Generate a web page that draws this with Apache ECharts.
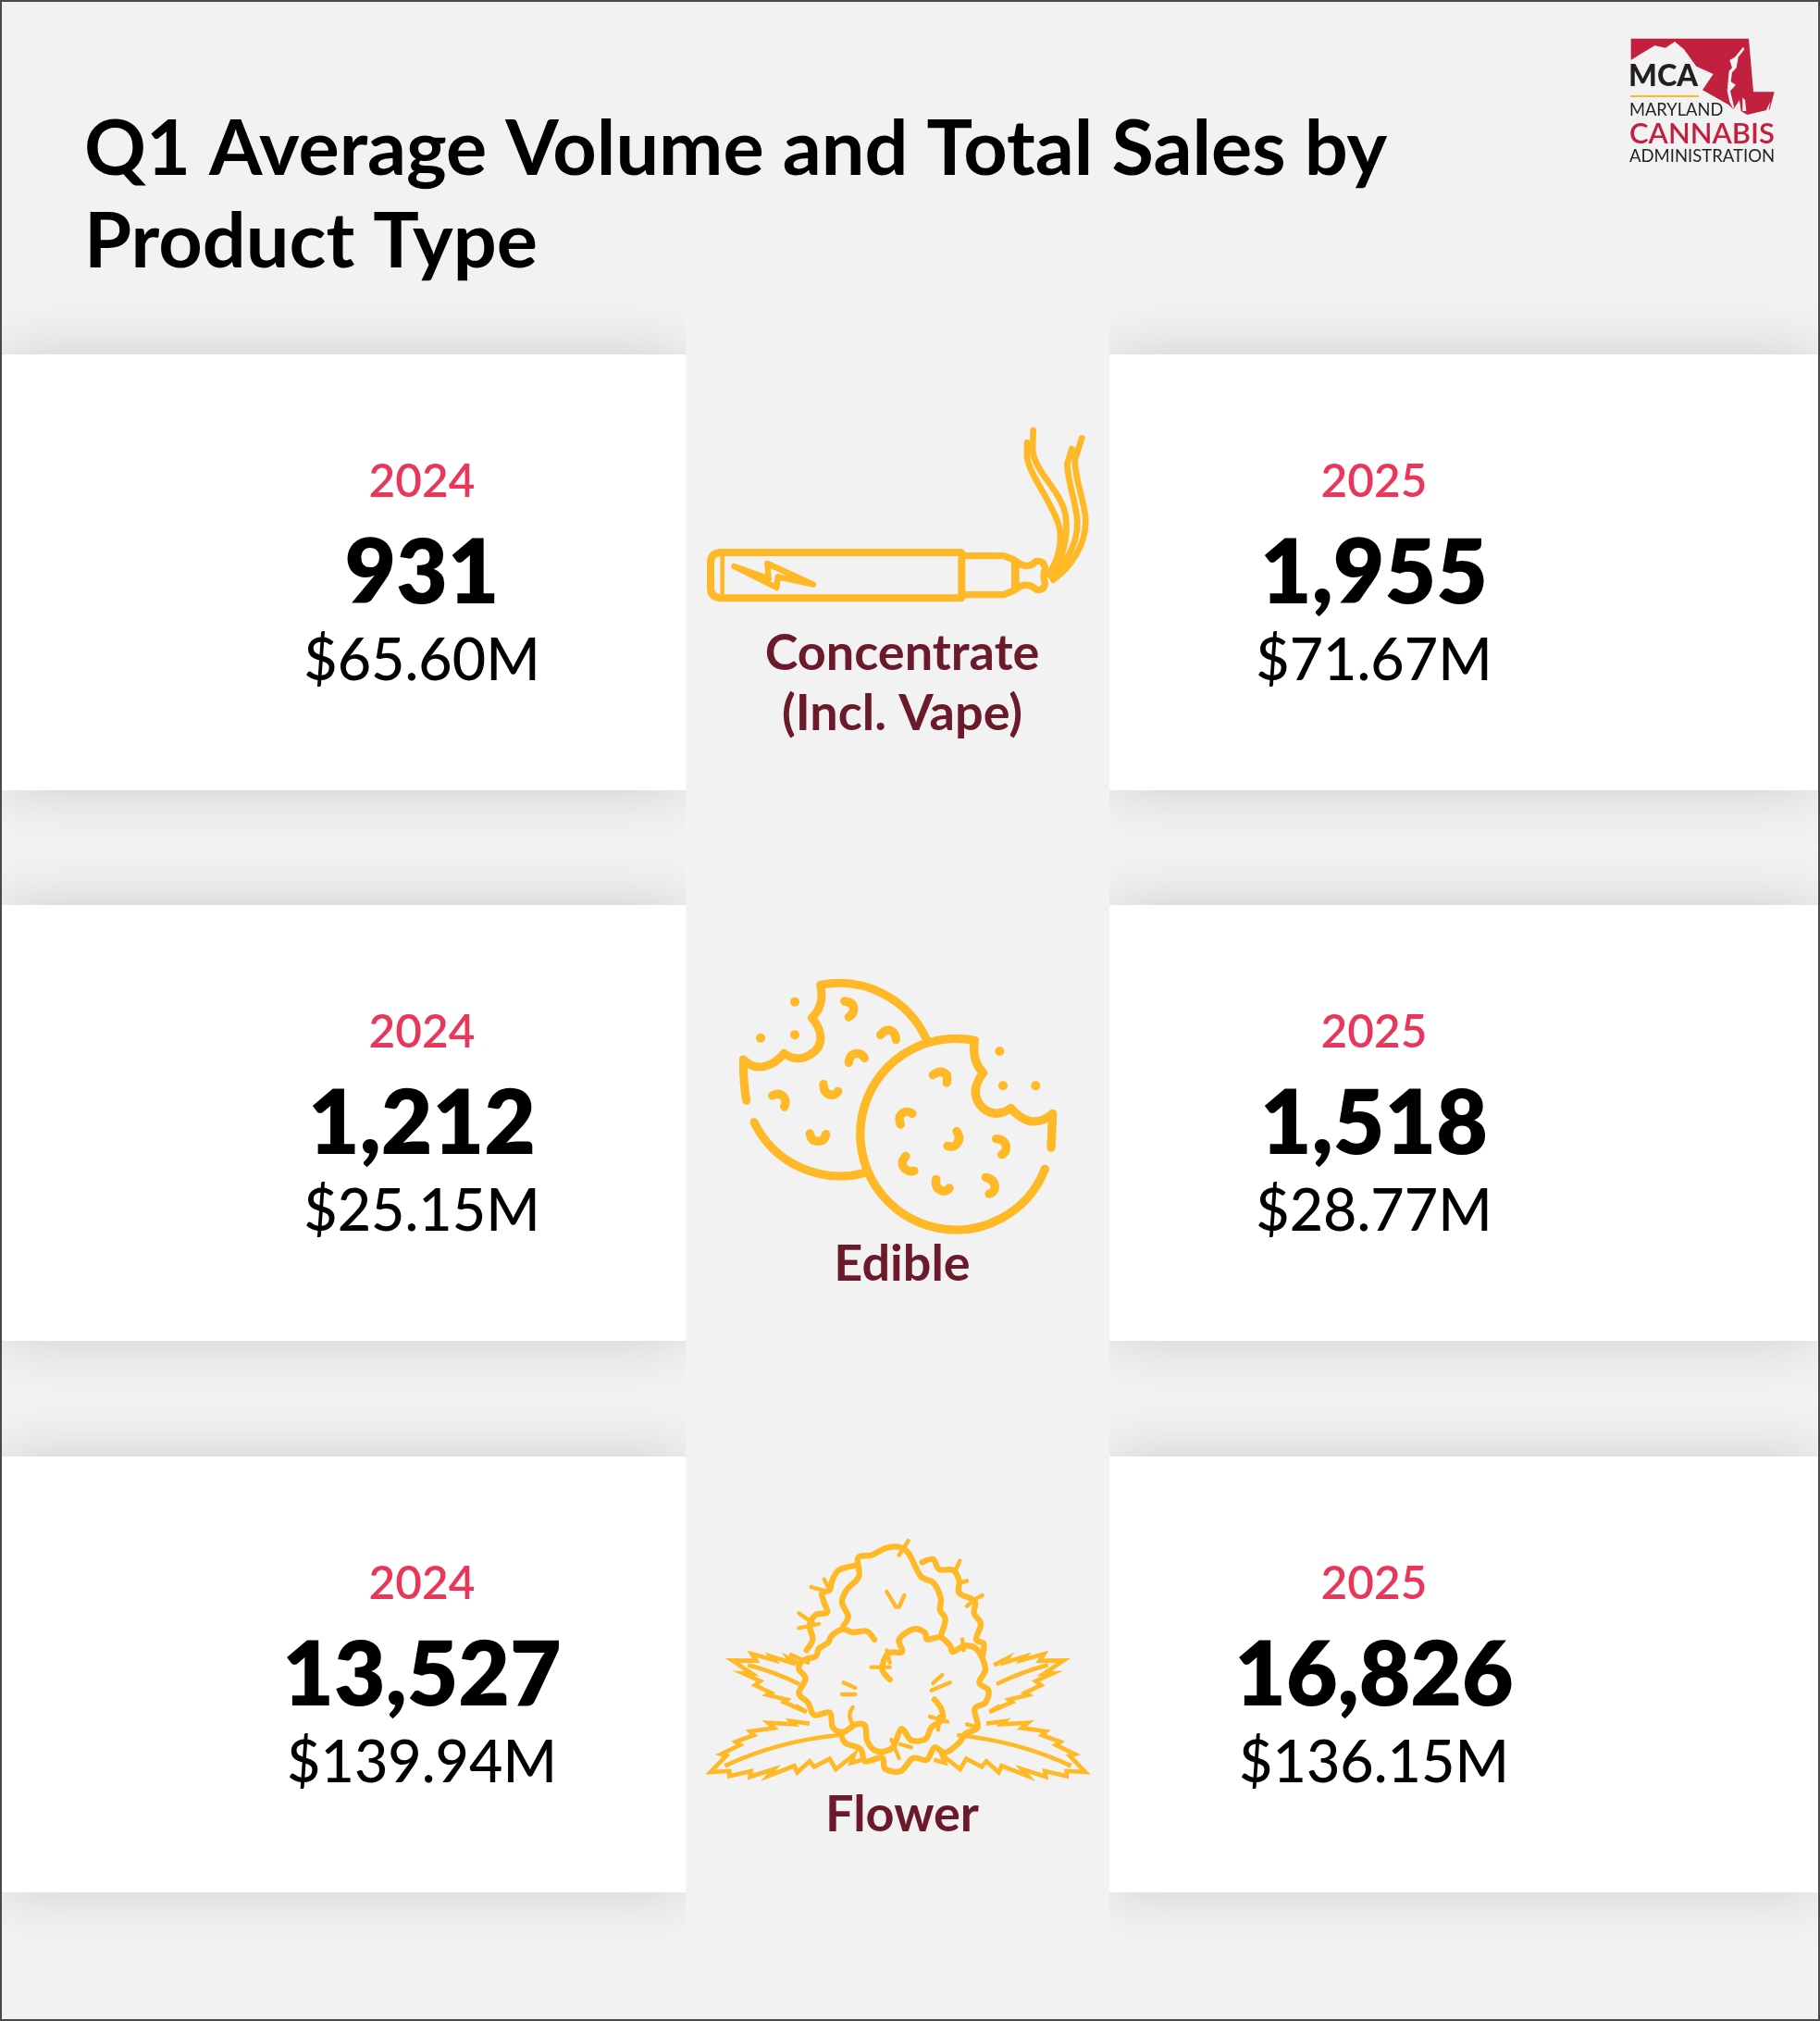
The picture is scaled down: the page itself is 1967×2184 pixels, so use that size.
<!DOCTYPE html>
<html>
<head>
<meta charset="utf-8">
<style>
  html, body { margin: 0; padding: 0; background: #f2f2f2; }
  #chart { width: 1967px; height: 2184px; }
</style>
<script src="https://cdn.jsdelivr.net/npm/echarts@6/dist/echarts.min.js"></script>
</head>
<body>
<div id="chart"></div>
<script>
var titleLines = ['Q1 Average Volume and Total Sales by', 'Product Type'];
var productTypes = [['Concentrate', '(Incl. Vape)'], ['Edible'], ['Flower']];
var years = ['2024', '2025'];
var volume2024 = [931, 1212, 13527];
var volume2025 = [1955, 1518, 16826];
var sales2024 = [65.60, 25.15, 139.94];
var sales2025 = [71.67, 28.77, 136.15];

var FONT = 'Lato';
var ROW_TOPS = [383, 978, 1574];
var ROW_H = 471;
var GOLD = '#ffb826';

var myChart = echarts.init(document.getElementById('chart'));

// catmull-rom through the points, used for the lumpy flower outlines
function smooth(pts) {
  var d = 'M' + pts[0][0] + ',' + pts[0][1];
  for (var i = 0; i < pts.length - 1; i++) {
    var p0 = pts[Math.max(i - 1, 0)], p1 = pts[i], p2 = pts[i + 1], p3 = pts[Math.min(i + 2, pts.length - 1)];
    d += 'C' + (p1[0] + (p2[0] - p0[0]) / 6) + ',' + (p1[1] + (p2[1] - p0[1]) / 6) + ' ' +
      (p2[0] - (p3[0] - p1[0]) / 6) + ',' + (p2[1] - (p3[1] - p1[1]) / 6) + ' ' + p2[0] + ',' + p2[1];
  }
  return d;
}

function text(str, x, y, size, weight, color, align) {
  return {
    type: 'text', x: x, y: y, z: 10,
    style: {
      text: str, fontFamily: FONT, fontSize: size, fontWeight: weight,
      fill: color, align: align || 'center', verticalAlign: 'middle'
    }
  };
}

// graphic has no plain path type, so each svg path gets registered as a shape
var shapeCount = 0;
function icon(d, ox, oy, lw, opts) {
  opts = opts || {};
  var name = 'iconPath' + (shapeCount++);
  echarts.graphic.registerShape(name, echarts.graphic.extendPath(d, {}));
  // icon paths are written in 3x crop units, so they get scale 1/3
  return {
    type: name, x: ox, y: oy, scaleX: opts.flip ? -1 / 3 : 1 / 3, scaleY: 1 / 3, z: 8,
    shape: {},
    style: {
      fill: opts.fill || 'none', stroke: opts.noStroke ? 'none' : (opts.stroke || GOLD), lineWidth: lw,
      lineCap: opts.cap || 'round', lineJoin: opts.join || 'round'
    }
  };
}

var els = [];

// page background and frame
els.push({ type: 'rect', z: 0, shape: { x: 0, y: 0, width: 1967, height: 2184 }, style: { fill: '#f2f2f2' } });

// white panels with their soft shadow
ROW_TOPS.forEach(function (top) {
  [[2, 739], [1199, 766]].forEach(function (p) {
    els.push({
      type: 'rect', z: 1, shape: { x: p[0], y: top, width: p[1], height: ROW_H },
      style: { fill: '#ffffff', shadowBlur: 60, shadowColor: 'rgba(0,0,0,0.15)' }
    });
  });
});
// center column sits over the shadows
els.push({ type: 'rect', z: 2, shape: { x: 741, y: 320, width: 458, height: 1800 }, style: { fill: '#f2f2f2' } });
els.push({
  type: 'rect', z: 3, shape: { x: 1, y: 1, width: 1965, height: 2182 },
  style: { fill: 'none', stroke: '#4a4a4a', lineWidth: 2 }
});

titleLines.forEach(function (t, i) {
  els.push(text(t, 91, 162 + i * 100, 82.8, 700, '#000000', 'left'));
});

// stat blocks
var cols = [[456, volume2024, sales2024, years[0]], [1485, volume2025, sales2025, years[1]]];
cols.forEach(function (c) {
  ROW_TOPS.forEach(function (top, r) {
    els.push(text(c[3], c[0], top + 138, 49.5, 600, '#e8375a'));
    els.push(text(c[1][r].toLocaleString('en-US'), c[0], top + 238, 96, 800, '#000000'));
    els.push(text('$' + c[2][r].toFixed(2) + 'M', c[0], top + 332, 62.8, 500, '#000000'));
  });
});

// product labels
var labelY = [[707, 772], [1367], [1962]];
productTypes.forEach(function (lines, r) {
  lines.forEach(function (l, i) {
    els.push(text(l, 975, labelY[r][i], 54, 700, '#6b1a2b'));
  });
});

// vape pen
var VX = 730, VY = 430;
els.push(icon('M150,501 H924 Q928,501 928,505 V645 Q928,649 924,649 H150 Q114,649 114,615 V535 Q114,501 150,501 Z', VX, VY, 24));
els.push(icon('M152,505 V645', VX, VY, 14));
els.push(icon('M190,546 L302,586 L298,537 L447,605 L332,580 L328,615 Z', VX, VY, 19));
els.push(icon('M932,512 H1065 L1098,525 L1120,540 Q1150,552 1168,530 Q1197,525 1198,555 Q1190,575 1198,600 Q1197,625 1170,622 Q1150,600 1120,610 L1098,624 L1065,638 H932', VX, VY, 22));
els.push(icon('M1102,528 V624', VX, VY, 26, { cap: 'butt' }));
els.push(icon('M1160,105 L1158,170 C1165,240 1250,300 1265,380 C1275,450 1255,530 1215,575', VX, VY, 20));
els.push(icon('M1140,145 L1140,190 C1145,250 1225,340 1245,420 C1255,470 1240,530 1210,570', VX, VY, 20));
els.push(icon('M1318,130 L1295,200 C1295,270 1330,340 1330,400 C1330,480 1280,550 1225,590', VX, VY, 20));
els.push(icon('M1285,165 L1270,215 C1275,290 1300,340 1303,400 C1305,470 1270,530 1220,580', VX, VY, 20));

// cookies
var CX = 760, CY = 1030;
els.push(icon('M140,478 Q130,420 130,345 Q160,375 195,368 Q235,360 262,325 Q305,355 345,330 Q385,310 380,265 Q375,235 352,210 Q395,170 380,103 A310,310 0 0 1 725,282', CX, CY, 27));
els.push(icon('M165,548 A310,310 0 0 0 525,712', CX, CY, 27));
els.push(icon('M1128,630 L1133,520 Q1100,550 1060,545 Q1025,535 998,503 Q950,535 910,505 Q880,480 883,440 Q890,410 908,388 Q870,350 880,283 A310,310 0 1 0 1108,700', CX, CY, 28));
var chips = [
  'M458,156 Q490,160 488,185 Q485,200 472,207', 'M575,265 Q595,240 615,255 Q625,265 625,280',
  'M472,355 Q475,325 500,325 Q515,325 523,340', 'M390,425 Q390,455 415,460 Q430,460 437,448',
  'M224,462 Q245,450 260,465 Q272,480 263,498', 'M346,585 Q350,610 372,610 Q395,610 398,587',
  'M745,395 Q770,375 790,395 Q793,410 790,420', 'M678,520 Q650,505 637,530 Q635,545 640,555',
  'M822,578 Q840,605 815,625 Q805,630 792,625', 'M950,602 Q985,605 982,635 Q980,648 968,653',
  'M657,658 Q635,680 655,700 Q668,710 684,706', 'M755,733 Q750,765 778,772 Q790,772 798,762',
  'M916,727 Q950,735 945,765 Q940,778 927,780'
];
chips.forEach(function (d) { els.push(icon(d, CX, CY, 28)); });
[[297, 158], [186, 275], [297, 265], [961, 318], [972, 430], [1078, 430]].forEach(function (p) {
  els.push({ type: 'circle', x: CX, y: CY, scaleX: 1 / 3, scaleY: 1 / 3, z: 8, shape: { cx: p[0], cy: p[1], r: 15 }, style: { fill: GOLD } });
});

// flower
var FX = 740, FY = 1640;
var budLines = [
  [[515, 350], [530, 320], [510, 275], [525, 235], [565, 190], [562, 130], [605, 122], [650, 100], [690, 95], [725, 115], [765, 190], [805, 210], [830, 260], [828, 300], [845, 330], [830, 385]],
  [[555, 155], [500, 170], [478, 205], [470, 235], [445, 245], [452, 275], [462, 308], [425, 315], [405, 350], [415, 395], [395, 430]],
  [[770, 145], [805, 135], [825, 168], [870, 170], [890, 205], [890, 245], [940, 270], [938, 310], [960, 345], [945, 395], [970, 410], [965, 450]],
  [[615, 395], [590, 368], [545, 372], [510, 362], [475, 385], [465, 405], [435, 425], [425, 450], [385, 462], [370, 490], [392, 522], [370, 570], [400, 600], [420, 640], [470, 632], [480, 680], [515, 695], [555, 670], [585, 675], [592, 725], [625, 758], [675, 745], [702, 685], [735, 722], [780, 718], [800, 680], [835, 655], [832, 620], [810, 590]],
  [[665, 525], [640, 490], [660, 440], [705, 435], [695, 395], [740, 362], [778, 372], [787, 395], [830, 388], [860, 415], [870, 435], [910, 415], [950, 430], [975, 490], [955, 535], [985, 560], [975, 600], [940, 620], [950, 680], [910, 700], [890, 730], [845, 762], [810, 745], [785, 785], [740, 780], [700, 822], [650, 815], [640, 778], [585, 790], [570, 750], [520, 730], [505, 695]]
];
budLines.forEach(function (pts) { els.push(icon(smooth(pts), FX, FY, 19)); });
var hairs = [
  'M725,75 L695,122', 'M892,140 L875,178', 'M965,252 L935,268', 'M915,205 L893,212', 'M935,270 L915,287',
  'M410,225 L465,240', 'M452,200 L470,235', 'M370,310 L420,345', 'M370,358 L435,345', 'M345,445 L400,470',
  'M605,485 L665,485', 'M655,430 L665,470', 'M795,645 L852,662', 'M825,645 L822,688', 'M670,720 L695,780', 'M700,735 L735,745',
  'M900,395 L905,430', 'M915,670 L950,680',
  'M655,240 L685,290', 'M712,252 L695,290', 'M515,535 L553,552', 'M510,573 L553,573',
  'M835,510 L805,537', 'M860,535 L800,560', 'M545,615 Q525,640 545,670'
];
hairs.forEach(function (d) { els.push(icon(d, FX, FY, 13)); });

// leaves, the right pair is the left pair mirrored
var leafD = [
  'M380,478 L335,455 L345,470 L280,450 L290,462 L218,442 L232,464 L155,463 L218,506 L190,505 L245,530 L228,543 L280,568 L268,575 L332,590 L322,598 L395,630 L360,610',
  'M205,478 Q290,500 372,540',
  'M405,668 L345,660 L355,670 L270,665 L290,682 L212,693 L225,705 L165,727 L180,737 L118,767 L135,772 L84,825 L145,822 L145,838 L215,822 L212,840 L290,815 L270,838 L355,805 L365,826 L405,790 L420,808 L470,782 L490,816 L550,768 L540,795 L575,785',
  'M130,805 Q300,725 500,705'
];
leafD.forEach(function (d) {
  els.push(icon(d, FX, FY, 14, { join: 'miter', cap: 'butt' }));
  els.push(icon(d, FX + 1383 / 3, FY, 14, { join: 'miter', cap: 'butt', flip: true }));
});

// logo
var LX = 1740, LY = 20;
els.push(icon('M68,65 L450,65 L465,238 L533,238 L518,295 L445,312 L425,300 L420,265 L400,295 L385,280 L300,232 L335,180 L280,155 L240,100 L210,75 L180,95 L145,88 L100,115 L68,135 Z', LX, LY, 0, { fill: '#c1203f', noStroke: true }));
els.push(icon('M432,92 L436,100 L416,125 L410,160 L396,175 L392,205 L408,215 L390,235 L402,285 L400,295 L388,270 L380,235 L386,170 L396,160 L388,135 L405,125 Z', LX, LY, 0, { fill: '#f2f2f2', noStroke: true }));
els.push(icon('M430,255 L438,265 L442,300 L430,300 Z', LX, LY, 0, { fill: '#f2f2f2', noStroke: true }));
els.push(icon('M505,300 L520,270 L515,295 Z', LX, LY, 0, { fill: '#f2f2f2', noStroke: true }));
els.push(text('MCA', 1760, 83, 32.5, 900, '#231f20', 'left'));
els.push({ type: 'rect', z: 8, shape: { x: 1762, y: 103, width: 74, height: 2 }, style: { fill: GOLD } });
els.push(text('MARYLAND', 1761, 119, 18.3, 400, '#231f20', 'left'));
els.push(text('CANNABIS', 1761, 145, 31, 600, '#c1203f', 'left'));
els.push(text('ADMINISTRATION', 1761, 169, 18.5, 400, '#231f20', 'left'));

myChart.setOption({
  animation: false,
  backgroundColor: '#f2f2f2',
  graphic: { elements: els }
});
</script>
</body>
</html>
